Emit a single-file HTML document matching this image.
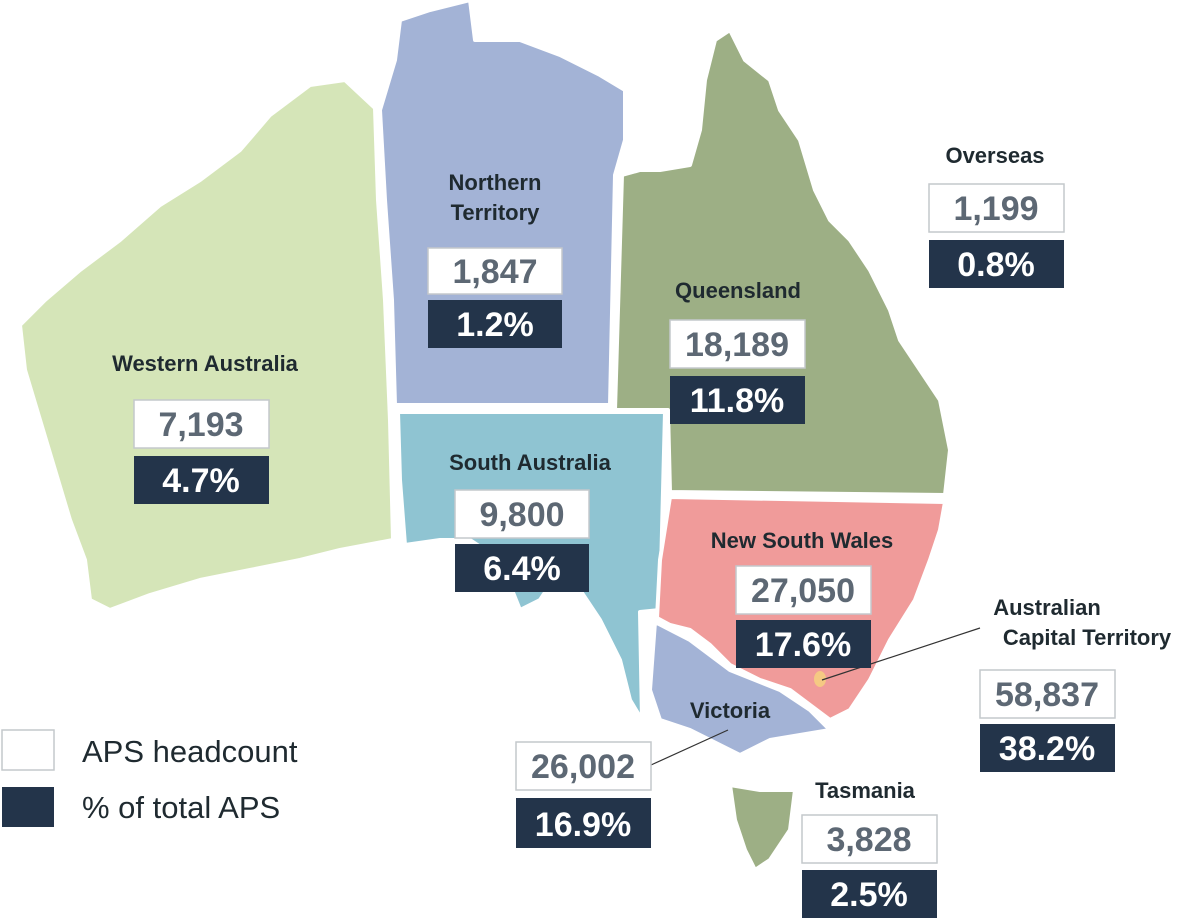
<!DOCTYPE html>
<html><head><meta charset="utf-8"><style>
body{margin:0;background:#fff;}
svg{display:block}
.lb{font-family:"Liberation Sans",sans-serif;font-weight:bold;font-size:22px;fill:#1f2a30;text-anchor:middle}
.n{font-family:"Liberation Sans Narrow","Liberation Sans",sans-serif;font-weight:bold;font-size:34px;text-anchor:middle}
.w{fill:#5d6874}.d{fill:#fff}
.lg{font-family:"Liberation Sans Narrow","Liberation Sans",sans-serif;font-size:31px;fill:#1f2a30}
</style></head><body>
<svg width="1200" height="920" viewBox="0 0 1200 920">
<g stroke="#fff" stroke-width="4" stroke-linejoin="round">
<polygon fill="#d5e5b8" points="20,325 45,300 80,270 120,240 160,205 200,180 240,150 270,115 310,85 345,80 375,108 378,200 385,300 390,420 393,540 340,550 300,560 250,570 200,580 150,595 110,610 90,600 85,560 70,520 55,470 40,420 25,370"/>
<polygon fill="#a3b3d6" points="380,110 395,60 400,20 430,10 470,0 475,40 520,40 560,55 600,75 625,90 625,140 615,175 610,405 395,405 392,300 385,200"/>
<polygon fill="#9daf85" points="622,175 640,170 660,170 690,165 700,130 705,80 715,40 730,30 745,60 770,80 780,110 800,140 815,190 830,220 850,240 870,270 890,310 900,340 920,370 940,400 950,450 945,495 670,492 668,410 615,410"/>
<polygon fill="#8fc4d2" points="398,412 665,412 660,610 640,612 642,720 630,700 620,660 600,620 580,590 560,570 540,600 520,610 500,560 470,540 440,540 405,545 400,480"/>
<polygon fill="#f09b9a" points="670,497 945,502 940,530 930,560 915,600 890,640 870,680 850,710 830,720 810,705 790,690 760,680 730,665 710,645 690,630 670,625 657,618 660,560"/>
<polygon fill="#a3b3d6" points="655,622 690,640 730,670 780,690 810,710 830,730 800,735 770,740 740,755 720,745 690,730 660,720 650,690"/>
<polygon fill="#9daf85" points="730,785 760,790 795,790 790,830 770,860 755,870 745,850 735,820"/>
</g>
<ellipse cx="820" cy="679" rx="6" ry="8" fill="#f5c983"/>
<line x1="822" y1="680" x2="980" y2="628" stroke="#333" stroke-width="1.2"/>
<line x1="651" y1="765" x2="728" y2="730" stroke="#333" stroke-width="1.2"/>
<g fill="#fff" stroke="#c4c8cc" stroke-width="1.5">
<rect x="929" y="184" width="135" height="48"/><rect x="428" y="248" width="134" height="46"/>
<rect x="670" y="320" width="135" height="48"/><rect x="134" y="400" width="135" height="48"/>
<rect x="455" y="490" width="134" height="48"/><rect x="736" y="566" width="135" height="48"/>
<rect x="980" y="670" width="135" height="48"/><rect x="516" y="742" width="135" height="48"/>
<rect x="802" y="815" width="135" height="48"/><rect x="2" y="730" width="52" height="40"/>
</g>
<g fill="#23344a">
<rect x="929" y="240" width="135" height="48"/><rect x="428" y="300" width="134" height="48"/>
<rect x="670" y="376" width="135" height="48"/><rect x="134" y="456" width="135" height="48"/>
<rect x="455" y="544" width="134" height="48"/><rect x="736" y="620" width="135" height="48"/>
<rect x="980" y="724" width="135" height="48"/><rect x="516" y="798" width="135" height="50"/>
<rect x="802" y="870" width="135" height="48"/><rect x="2" y="787" width="52" height="40"/>
</g>
<text class="lb" x="995" y="163">Overseas</text>
<text class="lb" x="495" y="190">Northern</text><text class="lb" x="495" y="220">Territory</text>
<text class="lb" x="738" y="298">Queensland</text>
<text class="lb" x="205" y="371">Western Australia</text>
<text class="lb" x="530" y="470">South Australia</text>
<text class="lb" x="802" y="548">New South Wales</text>
<text class="lb" x="1047" y="615">Australian</text><text class="lb" x="1087" y="645">Capital Territory</text>
<text class="lb" x="730" y="718">Victoria</text>
<text class="lb" x="865" y="798">Tasmania</text>
<g class="n">
<text class="w" x="996" y="220">1,199</text><text class="d" x="996" y="276">0.8%</text>
<text class="w" x="495" y="283">1,847</text><text class="d" x="495" y="336">1.2%</text>
<text class="w" x="737" y="356">18,189</text><text class="d" x="737" y="412">11.8%</text>
<text class="w" x="201" y="436">7,193</text><text class="d" x="201" y="492">4.7%</text>
<text class="w" x="522" y="526">9,800</text><text class="d" x="522" y="580">6.4%</text>
<text class="w" x="803" y="602">27,050</text><text class="d" x="803" y="656">17.6%</text>
<text class="w" x="1047" y="706">58,837</text><text class="d" x="1047" y="760">38.2%</text>
<text class="w" x="583" y="778">26,002</text><text class="d" x="583" y="836">16.9%</text>
<text class="w" x="869" y="851">3,828</text><text class="d" x="869" y="906">2.5%</text>
</g>
<text class="lg" x="82" y="762">APS headcount</text>
<text class="lg" x="82" y="818">% of total APS</text>
</svg>
</body></html>
